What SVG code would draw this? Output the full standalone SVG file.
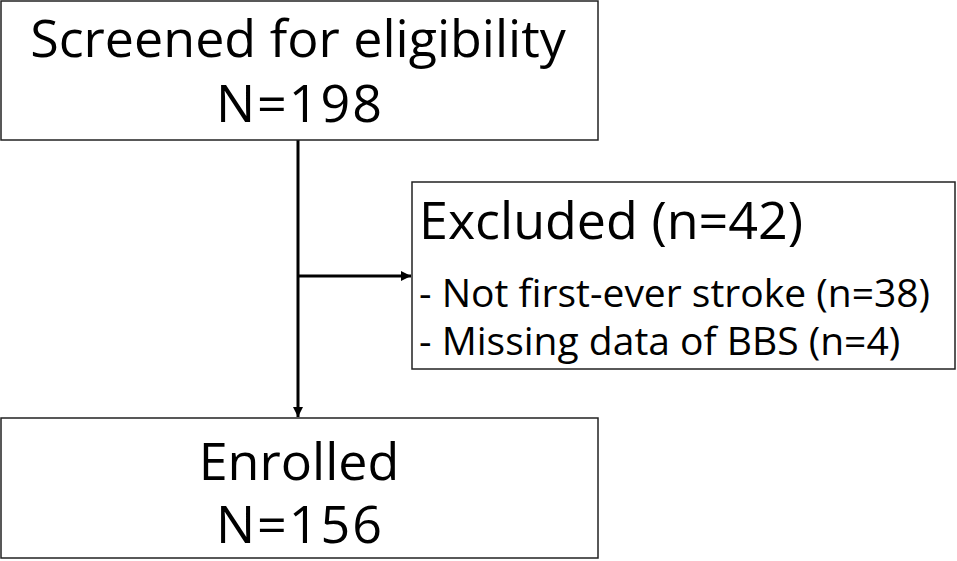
<svg xmlns="http://www.w3.org/2000/svg" width="957" height="561" viewBox="0 0 957 561">
<style>
.box{fill:#fff;stroke:#222;stroke-width:1.5}
.t{font-family:"Open Sans","Noto Sans","Liberation Sans",sans-serif;fill:#000}
.big{font-size:52px}
.num{letter-spacing:2px}
.mid{font-size:52px}
.sm{font-size:39px}
.conn{stroke:#000;stroke-width:3;fill:none}
</style>
<defs>
<marker id="ah" viewBox="0 0 10 10" refX="10" refY="5" markerWidth="10" markerHeight="10" markerUnits="userSpaceOnUse" orient="auto">
<path d="M0,0 L10,5 L0,10 z" fill="#000"/>
</marker>
</defs>
<rect width="957" height="561" fill="#fff"/>
<g id="connectors">
<line class="conn" x1="298" y1="140" x2="298" y2="417" marker-end="url(#ah)"/>
<line class="conn" x1="298" y1="276" x2="411" y2="276" marker-end="url(#ah)"/>
</g>
<g id="screened">
<rect class="box" x="1" y="1" width="597" height="139"/>
<text class="t big" x="298" y="57" text-anchor="middle">Screened for eligibility</text>
<text class="t big num" x="300" y="122" text-anchor="middle">N=198</text>
</g>
<g id="excluded">
<rect class="box" x="412" y="182" width="543" height="187"/>
<text class="t mid" x="419" y="239">Excluded (n=42)</text>
<text class="t sm" x="419" y="307">- Not first-ever stroke (n=38)</text>
<text class="t sm" x="419" y="355">- Missing data of BBS (n=4)</text>
</g>
<g id="enrolled">
<rect class="box" x="1" y="418" width="597" height="140"/>
<text class="t big" x="299" y="480" text-anchor="middle">Enrolled</text>
<text class="t big num" x="300" y="543" text-anchor="middle">N=156</text>
</g>
</svg>
